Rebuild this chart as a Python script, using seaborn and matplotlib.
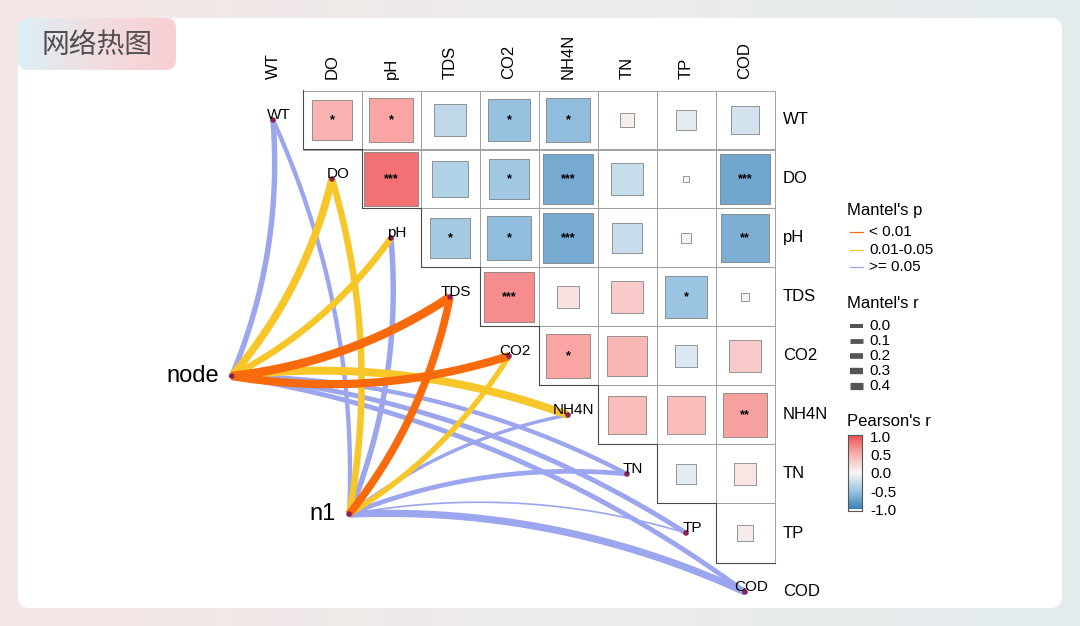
import numpy as np
import pandas as pd
import matplotlib
matplotlib.use("Agg")
import matplotlib.pyplot as plt
import seaborn as sns
from matplotlib.colors import LinearSegmentedColormap
from matplotlib.patches import FancyBboxPatch, Rectangle

variables = ["WT", "DO", "pH", "TDS", "CO2", "NH4N", "TN", "TP", "COD"]

# Pearson's r, upper triangle, one list per row (columns to the right of the diagonal)
r_WT = [0.48, 0.56, -0.31, -0.53, -0.56, 0.06, -0.11, -0.21]
r_DO = [0.84, -0.39, -0.48, -0.69, -0.28, -0.01, -0.72]
r_pH = [-0.46, -0.56, -0.69, -0.26, -0.03, -0.66]
r_TDS = [0.69, 0.15, 0.31, -0.51, 0.02]
r_CO2 = [0.56, 0.44, -0.15, 0.31]
r_NH4N = [0.41, 0.41, 0.58]
r_TN = [-0.11, 0.13]
r_TP = [0.08]

sig_WT = ["*", "*", "", "*", "*", "", "", ""]
sig_DO = ["***", "", "*", "***", "", "", "***"]
sig_pH = ["*", "*", "***", "", "", "**"]
sig_TDS = ["***", "", "", "*", ""]
sig_CO2 = ["*", "", "", ""]
sig_NH4N = ["", "", "**"]
sig_TN = ["", ""]
sig_TP = [""]

# Mantel test: two species groups against each variable
mantel_r_node = [0.22, 0.34, 0.28, 0.40, 0.37, 0.36, 0.16, 0.19, 0.19]
mantel_p_node = [0.12, 0.02, 0.03, 0.001, 0.004, 0.02, 0.30, 0.25, 0.20]
mantel_r_n1 = [0.16, 0.28, 0.22, 0.34, 0.22, 0.11, 0.18, 0.01, 0.32]
mantel_p_n1 = [0.15, 0.03, 0.08, 0.002, 0.04, 0.40, 0.20, 0.70, 0.10]

p_labels = ["< 0.01", "0.01-0.05", ">= 0.05"]
p_colors = ["#F96A0C", "#F7C72A", "#9CA6EE"]

# layout (pixels -> cell units)
CELL = 59.0
X0, Y0 = 273.0, 120.0
W, H = 1080, 626
node_xy = {"node": (-0.70, 4.34), "n1": (1.29, 6.68)}

plt.rcParams["font.family"] = ["Liberation Sans", "DejaVu Sans"]

cmap = LinearSegmentedColormap.from_list(
    "pr", ["#3B7FB6", "#9DC6E2", "#F7F7F7", "#F9B0AE", "#F0545A"])


def main():
    rows = [r_WT, r_DO, r_pH, r_TDS, r_CO2, r_NH4N, r_TN, r_TP]
    sigs = [sig_WT, sig_DO, sig_pH, sig_TDS, sig_CO2, sig_NH4N, sig_TN, sig_TP]
    recs = []
    for i, (rr, ss) in enumerate(zip(rows, sigs)):
        for k, (r, s) in enumerate(zip(rr, ss)):
            recs.append({"x": i + 1 + k, "y": i, "r": r, "absr": abs(r), "sig": s})
    cells = pd.DataFrame(recs)

    edges = pd.DataFrame({
        "from": ["node"] * 9 + ["n1"] * 9,
        "to": list(range(9)) * 2,
        "r": mantel_r_node + mantel_r_n1,
        "p": mantel_p_node + mantel_p_n1,
    })
    edges["pcat"] = pd.cut(edges["p"], [-np.inf, 0.01, 0.05, np.inf],
                           right=False, labels=p_labels)

    fig = plt.figure(figsize=(W / 100, H / 100), dpi=100)

    # background, card and title badge (pixel coordinates)
    bg = fig.add_axes([0, 0, 1, 1])
    grad = np.linspace(0, 1, 256)[None, :]
    bg.imshow(grad, extent=(0, W, H, 0), aspect="auto", zorder=0,
              cmap=LinearSegmentedColormap.from_list("bg", ["#F4E6E5", "#EDEBEB", "#E3ECEE"]))
    bg.add_patch(FancyBboxPatch((18, 18), 1044, 590, boxstyle="round,pad=0,rounding_size=12",
                                fc="white", ec="none", zorder=1))
    badge = FancyBboxPatch((18, 18), 158, 52, boxstyle="round,pad=0,rounding_size=10",
                           fc="none", ec="none", zorder=2)
    bg.add_patch(badge)
    im = bg.imshow(grad, extent=(18, 176, 70, 18), aspect="auto", zorder=2,
                   cmap=LinearSegmentedColormap.from_list("bd", ["#DCF0F6", "#F1DDE0", "#F9CFD3"]))
    im.set_clip_path(badge)
    bg.set_xlim(0, W)
    bg.set_ylim(H, 0)
    bg.axis("off")
    bg.text(97, 45, "网络热图", fontsize=20, color="#4F4F4F", ha="center", va="center",
            family=["Noto Sans CJK SC", "DejaVu Sans"], zorder=3)

    # legends
    bg.text(847, 210, "Mantel's p", fontsize=12, va="center")
    for lab, col, y in zip(p_labels, p_colors, [232, 250, 267]):
        bg.plot([850, 863], [y, y], color=col, lw=0.9)
        bg.text(869, y, lab, fontsize=11, va="center")
    bg.text(847, 303, "Mantel's r", fontsize=12, va="center")
    for k, y in enumerate([326, 341, 356, 371, 386]):
        bg.plot([850, 863], [y, y], color="#555555", lw=(4 + 0.8 * k) * 0.72,
                solid_capstyle="butt")
        bg.text(869, y, f"{0.1 * k:.1f}", fontsize=11, va="center")
    bg.text(847, 421, "Pearson's r", fontsize=12, va="center")

    cax = fig.add_axes([848 / W, 1 - 511 / H, 14 / W, 76 / H])
    cax.imshow(np.linspace(-1, 1, 256)[:, None], cmap=cmap, aspect="auto",
               extent=(0, 1, -1, 1), origin="lower", vmin=-1, vmax=1)
    cax.set_ylim(-1.05, 1.05)
    cax.set_xticks([])
    cax.yaxis.tick_right()
    cax.set_yticks([-1, -0.5, 0, 0.5, 1])
    cax.set_yticklabels(["-1.0", "-0.5", "0.0", "0.5", "1.0"])
    cax.tick_params(axis="y", length=0, pad=6, labelsize=11)
    for sp in cax.spines.values():
        sp.set_edgecolor("#555555")
        sp.set_linewidth(0.8)

    # main panel in cell units
    ax = fig.add_axes([0, 0, 1, 1])
    ax.patch.set_alpha(0)

    for _, c in cells.iterrows():
        ax.add_patch(Rectangle((c["x"] - 0.5, c["y"] - 0.5), 1, 1, fill=False,
                               ec="#A0A0A0", lw=0.7, zorder=1))
    stair = [(0.5, -0.5)]
    for i in range(8):
        stair += [(i + 0.5, i + 0.5), (i + 1.5, i + 0.5)]
    stair = np.array(stair)
    ax.plot(stair[:, 0], stair[:, 1], color="#4A4A4A", lw=0.8, zorder=1.5)

    side_pt = CELL * 72 / 100
    sns.scatterplot(data=cells, x="x", y="y", hue="r", palette=cmap, hue_norm=(-1, 1),
                    size="absr", sizes=(0, side_pt ** 2), size_norm=(0, 1), marker="s",
                    edgecolor="#707070", linewidth=0.5, legend=False, ax=ax, zorder=2)
    for _, c in cells[cells["sig"] != ""].iterrows():
        ax.text(c["x"], c["y"] + 0.01, c["sig"], ha="center", va="center",
                fontsize=9, fontweight="bold", color="black", zorder=3)

    # Mantel links, drawn lavender -> yellow -> orange
    t = np.linspace(0, 1, 80)[:, None]
    for cat, col in zip(p_labels[::-1], p_colors[::-1]):
        for _, e in edges[edges["pcat"] == cat].iterrows():
            s = np.array(node_xy[e["from"]])
            k = e["to"]
            d_end = np.array([k, k], dtype=float)
            d = d_end - s
            sign = 1 if k <= 4 else -1
            ctrl = (s + d_end) / 2 + sign * 0.12 * np.array([-d[1], d[0]])
            pts = (1 - t) ** 2 * s + 2 * (1 - t) * t * ctrl + t ** 2 * d_end
            ax.plot(pts[:, 0], pts[:, 1], color=col, lw=(1.5 + 18 * e["r"]) * 0.72,
                    solid_capstyle="butt", zorder=4)

    px = list(range(9)) + [node_xy["node"][0], node_xy["n1"][0]]
    py = list(range(9)) + [node_xy["node"][1], node_xy["n1"][1]]
    sns.scatterplot(x=px, y=py, color="#8E1F55", s=16, edgecolor="none",
                    legend=False, ax=ax, zorder=5)

    for k, v in enumerate(variables):
        ax.text(k + 0.1, k - 0.02, v, ha="center", va="baseline", fontsize=11, zorder=6)
        ax.text(k, -0.69, v, rotation=90, ha="center", va="bottom", fontsize=12)
        ax.text(8.64, k, v, ha="left", va="center", fontsize=12)
    for name, (x, y) in node_xy.items():
        ax.text(x - 0.22, y, name, ha="right", va="center", fontsize=17)

    ax.set_xlim(-X0 / CELL, (W - X0) / CELL)
    ax.set_ylim((H - Y0) / CELL, -Y0 / CELL)
    ax.axis("off")

    fig.savefig("out.png", dpi=100)


if __name__ == '__main__':
    main()
